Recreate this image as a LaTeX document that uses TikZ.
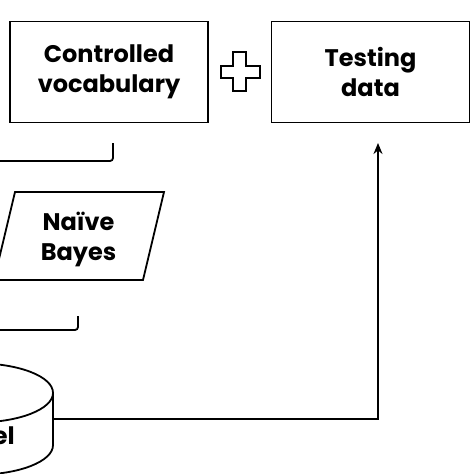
\documentclass[tikz,border=0pt]{standalone}
\usepackage{fontspec}
\setmainfont{Poppins}
\usetikzlibrary{shapes.geometric,arrows.meta}
\newcommand{\lbl}{\fontsize{24}{30}\selectfont\bfseries}

\begin{document}
\begin{tikzpicture}[x=1pt,y=-1pt,line width=1.8pt,
    box/.style={draw, minimum width=198pt, minimum height=101pt, align=center, font=\lbl},
    algo/.style={align=center, font=\lbl},
    store/.style={draw, cylinder, shape border rotate=90, aspect=0.72,
      minimum width=152pt, minimum height=106pt, anchor=shape center, font=\lbl},
    link/.style={rounded corners=3pt}]
  \useasboundingbox (0,0) rectangle (474,474);
  \node[box]   (vocab)   at (109,72)    {Controlled\\vocabulary};
  \node[box]   (testing) at (370.5,72)  {Testing\\data};
  \node[algo]  (bayes)   at (78.5,239)  {Naïve\\Bayes};
  \node[store] (model)   at (-23,419)   {\raisebox{6pt}{Model}};
  % parallelogram round the classifier
  \draw (15,192) -- (164,192) -- (143,280) -- (-6,280) -- cycle;
  % outlined plus
  \draw (233,52) -- (246,52) -- (246,66) -- (260,66) -- (260,78) -- (246,78) -- (246,91)
     -- (233,91) -- (233,78) -- (221,78) -- (221,66) -- (233,66) -- cycle;
  % connectors
  \coordinate (vin)  at (-20,161);
  \coordinate (vtop) at (113,143);
  \coordinate (bin)  at (-20,330);
  \coordinate (btop) at (78,316);
  \coordinate (ttop) at (378,143);
  \draw[link] (vin) -| (vtop);
  \draw[link] (bin) -| (btop);
  \draw[-{Stealth[length=11pt,width=9pt]}] (model.shape center -| model.east) -| (ttop);
\end{tikzpicture}
\end{document}
